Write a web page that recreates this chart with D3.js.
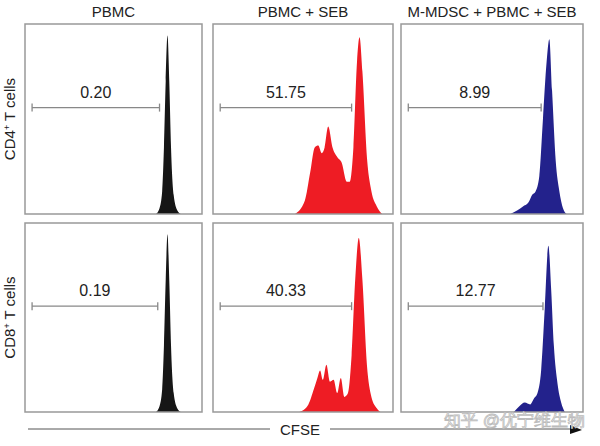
<!DOCTYPE html>
<html><head><meta charset="utf-8">
<script src="https://cdn.jsdelivr.net/npm/d3@7"></script>
<style>body{margin:0;background:#fff}text{font-family:"Liberation Sans",Arial,sans-serif}</style>
</head><body><div id="chart"></div>
<script>
var colTitles = ["PBMC", "PBMC + SEB", "M-MDSC + PBMC + SEB"];
var rowTitles = ["CD4", "CD8"];
var colors = ["#161616", "#ee1c24", "#23228c"];
var pctLabels = [["0.20", "51.75", "8.99"], ["0.19", "40.33", "12.77"]];
// gate end per panel (CFSE %)
var gateEnd = [[76, 77, 77], [75, 77, 78]];

// histogram outlines: [CFSE %, count %]
var histPBMC = [[74,0],[76,3],[77.5,12],[78.5,35],[79.5,70],[80.5,94],[81.5,70],[82.5,35],[84,10],[86,2],[88,0]];
var histSEB4 = [[45.5,0],[51,7],[54,22],[56.5,35],[58.5,36],[60.4,32],[62,35],[64,46],[66.4,35],[69,30],[71.5,27],[74.4,17],[76,17],[78,35],[80,80],[81.4,93],[83,75],[85.5,30],[88,12],[91,4],[94,0]];
var histSEB8 = [[48,0],[53,4],[56,12],[58,18],[59.5,22],[61,17],[63,25],[65,16],[67,17],[69,10],[71,18],[73,8],[75,10],[77,30],[79,70],[81,92],[83,70],[85.5,25],[88,8],[91,2],[93,0]];
var histMDSC4 = [[60,0],[64,2],[67,4],[70,6],[72,10],[74,12],[76,20],[78,50],[80,80],[81.5,92],[83,65],[85,28],[87,12],[89,3],[91,0]];
var histMDSC8 = [[62,0],[65,3],[68,5],[71,4],[73,7],[75,10],[77,22],[79,55],[81,88],[82.5,65],[84,35],[86,15],[88,5],[90,0]];
var hists = [[histPBMC, histSEB4, histMDSC4], [histPBMC, histSEB8, histMDSC8]];

var svg = d3.select("#chart").append("svg").attr("width", 600).attr("height", 446);
var colX = [[25, 202], [213, 393], [401, 583]];
var rowY = [[24, 214], [223, 412]];

rowY.forEach(function(ry, r) {
  colX.forEach(function(cx, c) {
    var x = d3.scaleLinear().domain([0, 100]).range(cx);
    var y = d3.scaleLinear().domain([0, 100]).range([ry[1], ry[0]]);
    var g = svg.append("g");
    var area = d3.area().x(d => x(d[0])).y0(y(0)).y1(d => y(d[1])).curve(d3.curveMonotoneX);
    g.append("path").datum(hists[r][c]).attr("d", area).attr("fill", colors[c]);
    g.append("rect").attr("x", cx[0]).attr("y", ry[0]).attr("width", cx[1] - cx[0]).attr("height", ry[1] - ry[0])
      .attr("fill", "none").attr("stroke", "#999").attr("stroke-width", 1.5);
    var gy = y(56), x0 = x(4), x1 = x(gateEnd[r][c]);
    g.append("line").attr("x1", x0).attr("x2", x1).attr("y1", gy).attr("y2", gy).attr("stroke", "#888").attr("stroke-width", 1.3);
    [x0, x1].forEach(function(v) {
      g.append("line").attr("x1", v).attr("x2", v).attr("y1", gy - 4).attr("y2", gy + 4).attr("stroke", "#888").attr("stroke-width", 1.3);
    });
    g.append("text").attr("x", (x0 + x1) / 2).attr("y", gy - 10).attr("text-anchor", "middle")
      .attr("font-size", 16).attr("fill", "#222").text(pctLabels[r][c]);
  });
  var t = svg.append("text").attr("transform", "translate(15," + ((ry[0] + ry[1]) / 2) + ") rotate(-90)")
    .attr("text-anchor", "middle").attr("font-size", 15).attr("fill", "#222");
  t.append("tspan").text(rowTitles[r]);
  t.append("tspan").attr("dy", -5).attr("font-size", 9).text("+");
  t.append("tspan").attr("dy", 5).text(" T cells");
});

colX.forEach(function(cx, c) {
  svg.append("text").attr("x", (cx[0] + cx[1]) / 2).attr("y", 17).attr("text-anchor", "middle")
    .attr("font-size", 15).attr("fill", "#222").text(colTitles[c]);
});

// CFSE axis arrow
svg.append("line").attr("x1", 28).attr("x2", 572).attr("y1", 429).attr("y2", 429).attr("stroke", "#555").attr("stroke-width", 1);
svg.append("path").attr("d", "M570,425 L582,430 L570,434 Z").attr("fill", "#111");
svg.append("rect").attr("x", 270).attr("y", 420).attr("width", 60).attr("height", 18).attr("fill", "#fff");
svg.append("text").attr("x", 300).attr("y", 435).attr("text-anchor", "middle").attr("font-size", 15).attr("fill", "#222").text("CFSE");
svg.append("text").attr("x", 585).attr("y", 426).attr("text-anchor", "end").attr("font-size", 17)
  .attr("font-family", "Noto Sans CJK SC").attr("fill", "#fff").attr("stroke", "#bbb").attr("stroke-width", 0.8).text("知乎 @优宁维生物");
</script></body></html>
